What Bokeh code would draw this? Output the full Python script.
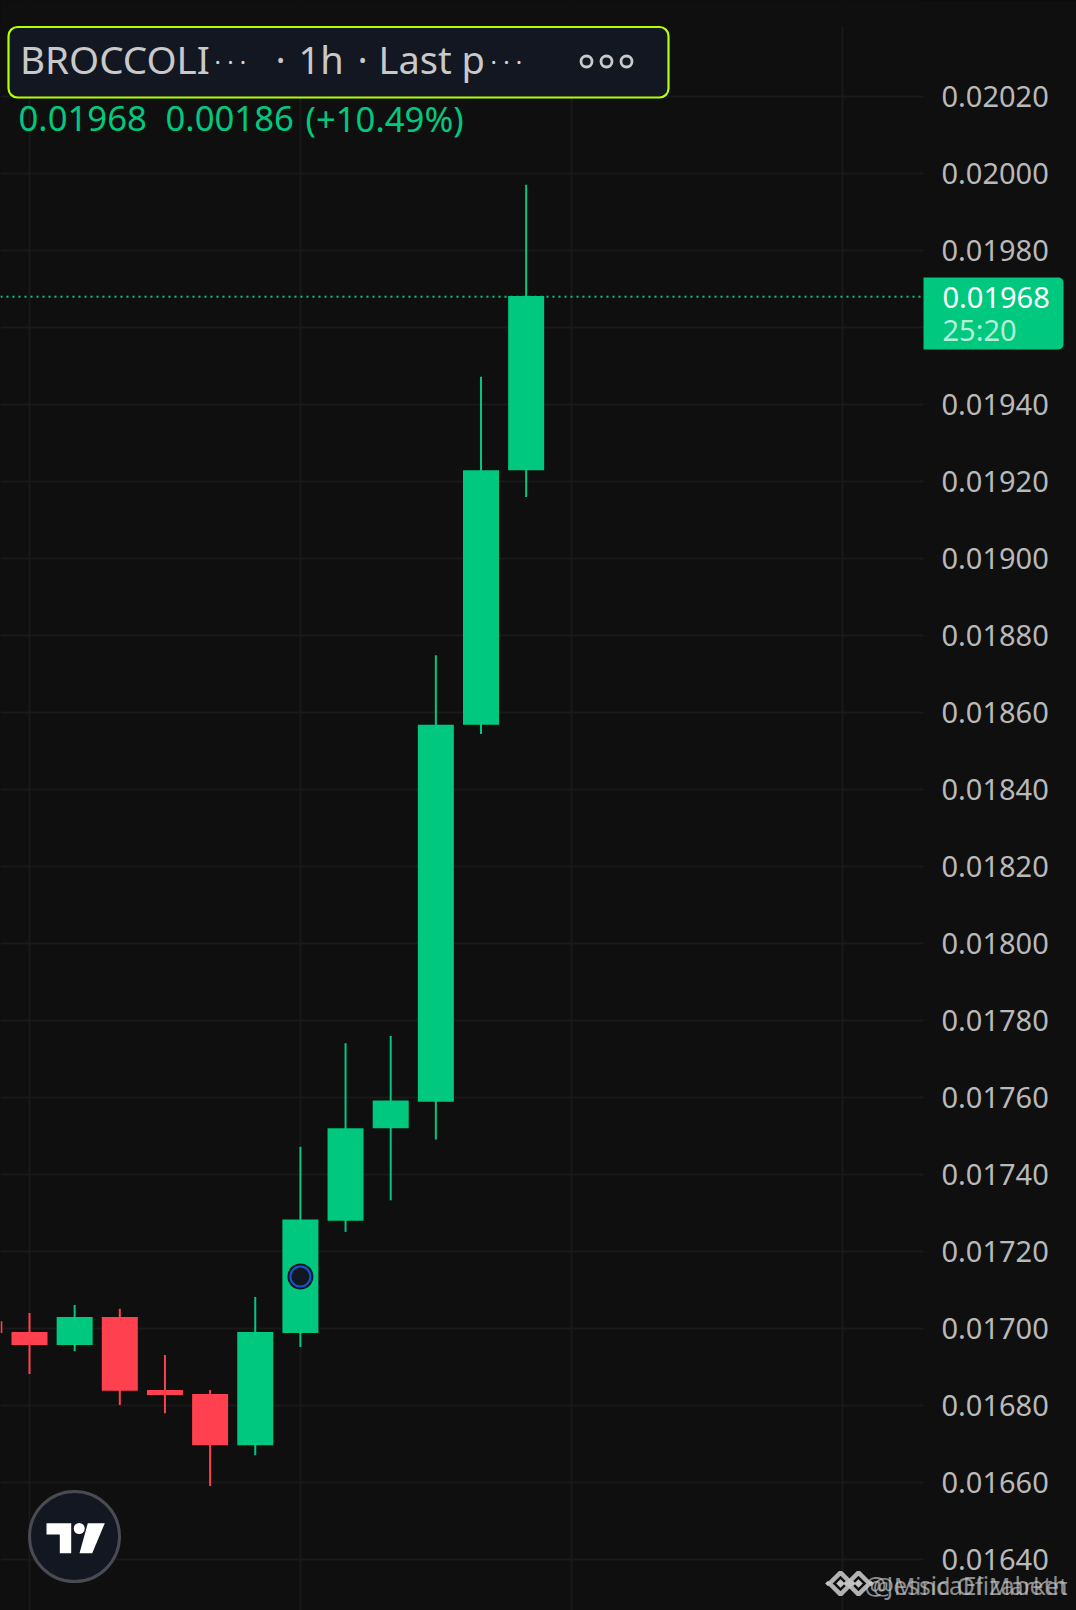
from bokeh.plotting import figure
from bokeh.models import (BoxAnnotation, Label, Span, FixedTicker, NumeralTickFormatter,
                          PolyAnnotation, Range1d)
from bokeh.embed import file_html
from bokeh.resources import INLINE

# ---------- data ----------
idx    = [-1, 0, 1, 2, 3, 4, 5, 6, 7, 8, 9, 10, 11]
opens  = [0.017019, 0.016991, 0.016957, 0.017030, 0.016840, 0.016830, 0.016697, 0.016988, 0.017280, 0.017520, 0.017589, 0.018568, 0.019229]
closes = [0.016988, 0.016957, 0.017030, 0.016838, 0.016827, 0.016697, 0.016991, 0.017283, 0.017520, 0.017592, 0.018568, 0.019229, 0.019682]
highs  = [0.017042, 0.017040, 0.017061, 0.017051, 0.016931, 0.016840, 0.017082, 0.017472, 0.017741, 0.017760, 0.018749, 0.019472, 0.019971]
lows   = [0.016962, 0.016882, 0.016941, 0.016801, 0.016780, 0.016591, 0.016671, 0.016952, 0.017251, 0.017333, 0.017491, 0.018544, 0.019160]
price_ticks = [0.0164, 0.0166, 0.0168, 0.0170, 0.0172, 0.0174, 0.0176, 0.0178, 0.0180, 0.0182,
               0.0184, 0.0186, 0.0188, 0.0190, 0.0192, 0.0194, 0.0196, 0.0198, 0.0200, 0.0202]
time_grid = [0, 6, 12, 18]
last_price = 0.01968
last_text = "0.01968"
change_text = "0.00186"
pct_text = "(+10.49%)"
countdown = "25:20"
marker_idx, marker_price = 6, 0.017135

# ---------- colours ----------
BG, GRID = "#0f0f0f", "#191919"
GREEN, RED = "#00c97f", "#ff404e"
LABEL = "#b9b9b9"
PANEL = "#131722"
FONT = "Noto Sans"

W, H = 1076, 1610
PANE_W = 923            # right edge of the chart pane
PANE_T = 26             # top edge of the chart pane
PX_PER_UNIT = 45.15
X0_PX = 29.0
PX_PER_PRICE = 77.0 / 0.0002
Y0_PX = 1559.0          # pixel of 0.0164

def xd(px):
    return (px - X0_PX) / PX_PER_UNIT

def yd(px):
    return 0.0164 + (Y0_PX - px) / PX_PER_PRICE

p = figure(width=W, height=H, output_backend="svg", toolbar_location=None,
           x_range=Range1d(xd(0), xd(W)), y_range=Range1d(yd(H), yd(0)),
           y_axis_location="right", background_fill_color=BG, border_fill_color=BG,
           min_border=0, min_border_right=0, min_border_left=0, min_border_top=0, min_border_bottom=0)
p.outline_line_color = None
p.xaxis.visible = False

ax = p.yaxis[0]
ax.ticker = FixedTicker(ticks=price_ticks)
ax.formatter = NumeralTickFormatter(format="0.00000")
ax.axis_line_color = None
ax.major_tick_line_color = None
ax.minor_tick_line_color = None
ax.major_tick_in = 0
ax.major_tick_out = 0
ax.minor_tick_in = 0
ax.minor_tick_out = 0
ax.major_label_standoff = 941 - W
ax.major_label_text_font = FONT
ax.major_label_text_font_size = "29px"
ax.major_label_text_color = LABEL

p.ygrid.ticker = FixedTicker(ticks=price_ticks)
p.xgrid.ticker = FixedTicker(ticks=time_grid)
p.xgrid.grid_line_color = GRID
p.ygrid.grid_line_color = GRID
p.xgrid.grid_line_width = 2
p.ygrid.grid_line_width = 2

colors = [GREEN if c >= o else RED for o, c in zip(opens, closes)]
tops = [max(o, c) for o, c in zip(opens, closes)]
bots = [min(o, c) for o, c in zip(opens, closes)]
p.segment(idx, highs, idx, lows, line_color=colors, line_width=2)
p.vbar(x=idx, top=tops, bottom=bots, width=36 / PX_PER_UNIT, fill_color=colors, line_color=None)

# last price line
p.add_layout(Span(location=last_price, dimension="width", line_color=GREEN, line_width=2,
                  line_dash="2 4", level="underlay"))

# event marker on candle
p.scatter([marker_idx], [marker_price], marker="circle", size=26, fill_color=PANEL, line_color=None)
p.scatter([marker_idx], [marker_price], marker="circle", size=20, fill_color=PANEL, line_color="#0f56d9", line_width=2)

def box(l, r, t, b, fill, line=None, lw=0, radius=0, level="annotation"):
    p.add_layout(BoxAnnotation(left=l, right=r, top=H - t, bottom=H - b, level=level,
                               left_units="screen", right_units="screen",
                               top_units="screen", bottom_units="screen",
                               fill_color=fill, fill_alpha=1, line_color=line, line_width=lw,
                               line_alpha=1 if line else 0, border_radius=radius))

def label(x, y, text, size, color, align="left", alpha=1.0, font=FONT):
    p.add_layout(Label(x=x, y=H - y, x_units="screen", y_units="screen", text=text, level="overlay",
                       text_font=font, text_font_size=f"{size}px", text_color=color,
                       text_alpha=alpha, text_align=align, text_baseline="middle"))

# the price-scale column and the strip above the pane hide grid and price line
box(PANE_W, W, 0, H, BG, level="glyph")
box(0, W, 0, PANE_T, BG, level="glyph")

# header panel
box(8, 668, 26.5, 97, PANEL, "#b4ff00", 2.2, 9)
label(19.5, 58, "BROCCOLI", 38.6, "#c9c9c9")
label(214, 60.5, "· · ·", 24, "#d4d4d4")
label(275, 58, "·", 38, "#c9c9c9")
label(298, 58, "1h", 38, "#c9c9c9")
label(357, 58, "·", 38, "#c9c9c9")
label(378, 58, "Last p", 38, "#c9c9c9")
label(490, 60.5, "· · ·", 24, "#d4d4d4")
p.scatter([xd(v) for v in (586, 606, 626)], [yd(61)] * 3, marker="circle", size=11,
          fill_color=None, line_color="#c9c9c9", line_width=2.8, level="overlay")

# legend line under the panel
label(18, 118, last_text, 34.7, GREEN)
label(165, 118, change_text, 34.7, GREEN)
label(305, 118, pct_text, 34.7, GREEN)

# price tag
box(PANE_W, 1063, 277, 349, GREEN, None, 0, (0, 5, 5, 0))
label(942, 297, last_text, 29, "#ffffff")
label(942, 329, countdown, 29, "#b4f0d9")

# TradingView badge
p.scatter([xd(74)], [yd(1536)], marker="circle", size=90, fill_color=PANEL, line_color="#4a4b52", line_width=3)
tv_x = [46, 70.7, 70.7, 59.3, 59.3, 46]
tv_y = [1522.7, 1522.7, 1552.7, 1552.7, 1534, 1534]
p.add_layout(PolyAnnotation(xs=tv_x, ys=[H - v for v in tv_y], xs_units="screen", ys_units="screen",
                            fill_color="#ffffff", fill_alpha=1, line_color=None))
sl_x = [87.3, 104.3, 91.7, 79]
sl_y = [1522.7, 1522.7, 1552.7, 1552.7]
p.add_layout(PolyAnnotation(xs=sl_x, ys=[H - v for v in sl_y], xs_units="screen", ys_units="screen",
                            fill_color="#ffffff", fill_alpha=1, line_color=None))
p.scatter([xd(78.7)], [yd(1528)], marker="circle", size=11, fill_color="#ffffff", line_color=None, level="overlay")

# watermark (two overlapping stamps)
for cx in (840, 858):
    p.scatter([xd(cx)], [yd(1583)], marker="square", angle=0.785, size=6, fill_color="#c4c4c4", line_color=None, level="overlay")
    p.scatter([xd(cx)], [yd(1583)], marker="square", angle=0.785, size=15.5, fill_color=None, line_color="#c4c4c4",
              line_width=4.5, line_alpha=0.9, level="overlay")
    p.scatter([xd(cx - 12.5), xd(cx + 12.5)], [yd(1583)] * 2, marker="square", angle=0.785, size=4, fill_color="#c4c4c4",
              line_color=None, level="overlay")
label(1067, 1585, "@JessicaElizabeth", 24.6, "#c4c4c4", align="right", alpha=0.7)
label(1067, 1585, "@Mind Of Market", 23.5, "#c4c4c4", align="right", alpha=0.7)

html = file_html(p, INLINE)
html = html.replace("<head>", "<head><style>html,body{margin:0;padding:0;background:#0f0f0f;overflow:hidden}</style>", 1)
open("out.html", "w").write(html)
